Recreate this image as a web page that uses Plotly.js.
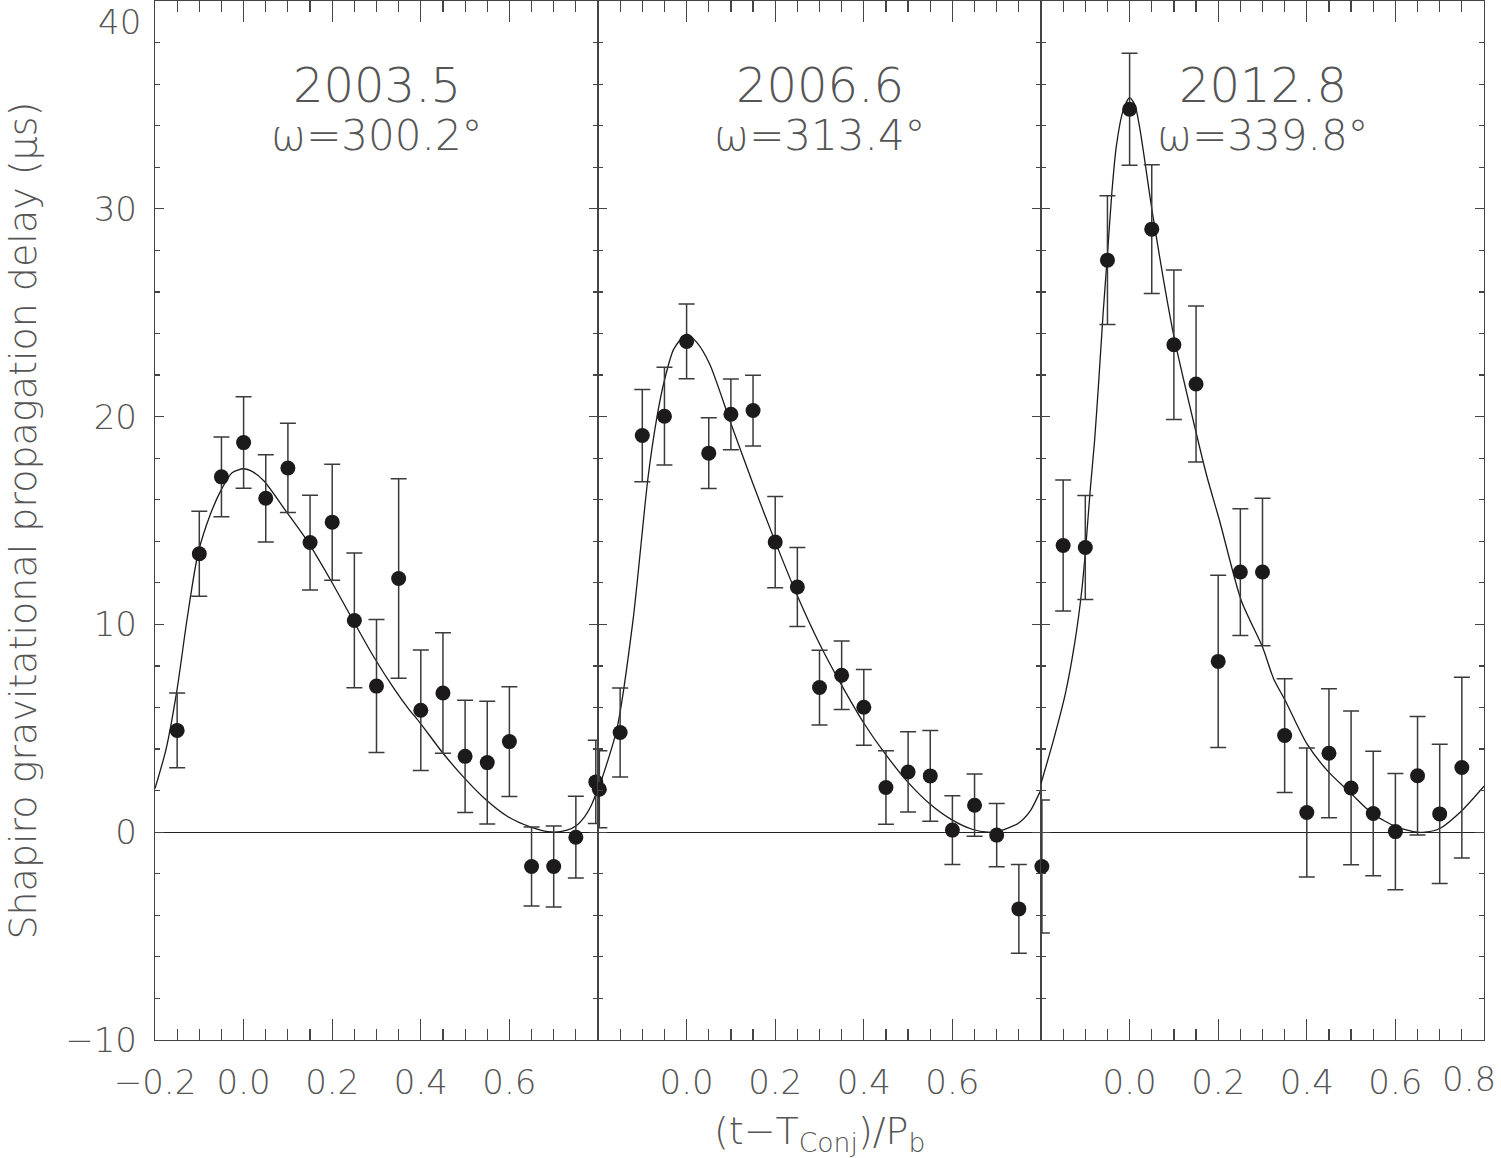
<!DOCTYPE html>
<html>
<head>
<meta charset="utf-8">
<script src="https://cdn.plot.ly/plotly-3.0.1.min.js"></script>
<style>html,body{margin:0;padding:0;background:#fff;}</style>
</head>
<body>
<div id="chart" style="width:1501px;height:1158px;"></div>
<script>
// ---- Data ----
const epochs = ['2003.5', '2006.6', '2012.8'];
const omegas = ['ω=300.2°', 'ω=313.4°', 'ω=339.8°'];

// Panel 1 (2003.5)
const phase1 = [-0.15,-0.10,-0.05,0.00,0.05,0.10,0.15,0.20,0.25,0.30,0.35,0.40,0.45,0.50,0.55,0.60,0.65,0.70,0.75,0.795];
const delay1 = [4.90,13.40,17.10,18.75,16.07,17.53,13.94,14.92,10.19,7.03,12.21,5.87,6.70,3.65,3.35,4.36,-1.65,-1.65,-0.24,2.42];
const err1   = [1.80,2.05,1.92,2.20,2.10,2.15,2.28,2.79,3.24,3.20,4.80,2.90,2.90,2.70,2.95,2.64,1.90,1.95,1.97,2.00];
const fitPhase1 = [-0.20,-0.175,-0.15,-0.128,-0.103,-0.075,-0.05,-0.026,0.00,0.02,0.046,0.094,0.143,0.196,0.243,0.294,0.34,0.372,0.397,0.448,0.496,0.544,0.595,0.647,0.695,0.73,0.75,0.77,0.785,0.80];
const fitDelay1 = [2.1,4.0,6.9,10.2,13.4,15.3,16.5,17.3,17.49,17.35,16.9,15.5,14.04,12.15,10.35,8.43,6.9,5.95,5.30,3.86,2.66,1.62,0.77,0.26,0.01,0.1,0.3,0.75,1.3,2.1];

// Panel 2 (2006.6)
const phase2 = [-0.197,-0.15,-0.10,-0.05,0.00,0.05,0.10,0.15,0.20,0.25,0.30,0.35,0.40,0.45,0.50,0.55,0.60,0.65,0.70,0.75];
const delay2 = [2.07,4.80,19.09,20.02,23.62,18.24,20.11,20.29,13.96,11.80,6.96,7.55,6.01,2.15,2.90,2.71,0.10,1.30,-0.14,-3.69];
const err2   = [1.85,2.14,2.22,2.35,1.80,1.70,1.70,1.70,2.20,1.90,1.80,1.65,1.82,1.77,1.93,2.18,1.65,1.50,1.52,2.14];
const fitPhase2 = [-0.20,-0.157,-0.121,-0.087,-0.067,-0.052,-0.029,0.00,0.023,0.052,0.099,0.15,0.196,0.248,0.30,0.348,0.401,0.448,0.499,0.548,0.60,0.646,0.68,0.70,0.748,0.775,0.80];
const fitDelay2 = [2.0,5.0,10.19,17.08,19.97,21.57,23.25,23.97,23.57,22.53,19.73,16.76,14.2,11.48,9.07,7.15,5.22,3.78,2.42,1.38,0.58,0.13,0.0,0.02,0.42,1.0,2.05];

// Panel 3 (2012.8)
const phase3 = [-0.198,-0.15,-0.10,-0.05,0.00,0.05,0.10,0.15,0.20,0.25,0.30,0.35,0.40,0.45,0.50,0.55,0.60,0.65,0.70,0.75];
const delay3 = [-1.65,13.80,13.70,27.53,34.79,29.02,23.46,21.57,8.22,12.52,12.52,4.65,0.95,3.80,2.13,0.90,0.03,2.72,0.88,3.11];
const err3   = [3.20,3.15,2.50,3.10,2.70,3.10,3.60,3.75,4.14,3.05,3.55,2.74,3.10,3.10,3.70,3.00,2.80,2.85,3.35,4.35];
const fitPhase3 = [-0.20,-0.172,-0.145,-0.123,-0.108,-0.099,-0.089,-0.079,-0.07,-0.06,-0.05,-0.04,-0.03,-0.015,0.00,0.012,0.024,0.052,0.099,0.149,0.175,0.203,0.252,0.30,0.325,0.351,0.40,0.449,0.50,0.548,0.602,0.649,0.667,0.70,0.751,0.80];
const fitDelay3 = [2.34,4.42,6.67,9.23,11.63,13.70,16.44,18.85,21.6,24.9,27.8,30.8,33.0,34.7,35.35,35.0,33.75,29.74,23.97,19.33,17.08,15.0,11.15,8.91,7.39,6.35,4.26,2.90,1.86,0.90,0.26,0.0,0.0,0.18,1.06,2.21];

// x-axis tick positions and labels per panel
const xTickVals1 = [-0.2, 0.0, 0.2, 0.4, 0.6];
const xTickText1 = ['−0.2', '0.0', '0.2', '0.4', '0.6'];
const xTickVals2 = [0.0, 0.2, 0.4, 0.6];
const xTickText2 = ['0.0', '0.2', '0.4', '0.6'];
const xTickVals3 = [0.0, 0.2, 0.4, 0.6];
const xTickText3 = ['0.0', '0.2', '0.4', '0.6'];
const xEdgeValue = 0.8;
const xEdgeLabel = '0.8';      // last label of panel 3, kept inside the picture
const yTickVals = [-10, 0, 10, 20, 30];
const yTickText = ['−10', '0', '10', '20', '30'];
const yTopLabel = '40';        // top label, kept inside the picture

// ---- Styling ----
const FONT = 'DejaVu Sans';
const TXT = '#555555';
const AX = '#444444';

const panels = [
  {x: phase1, y: delay1, e: err1, fx: fitPhase1, fy: fitDelay1},
  {x: phase2, y: delay2, e: err2, fx: fitPhase2, fy: fitDelay2},
  {x: phase3, y: delay3, e: err3, fx: fitPhase3, fy: fitDelay3}
];

const traces = [];
panels.forEach((p, i) => {
  const xa = i === 0 ? 'x' : 'x' + (i + 1);
  const ya = i === 0 ? 'y' : 'y' + (i + 1);
  traces.push({
    type: 'scatter', mode: 'lines', x: p.fx, y: p.fy, xaxis: xa, yaxis: ya,
    line: {color: '#1a1a1a', width: 1.3, shape: 'spline', smoothing: 0.7},
    hoverinfo: 'skip'
  });
  traces.push({
    type: 'scatter', mode: 'markers', x: p.x, y: p.y, xaxis: xa, yaxis: ya,
    cliponaxis: false,
    marker: {color: '#1c1a1b', size: 15},
    error_y: {type: 'data', array: p.e, visible: true, color: '#3a3a3a', thickness: 1.5, width: 8}
  });
});

function xAxis(domain, anchor, tickvals, ticktext) {
  return {
    domain: domain, anchor: anchor, range: [-0.2, 0.8],
    showgrid: false, zeroline: false,
    showline: true, linecolor: AX, linewidth: 1.2, mirror: 'ticks',
    ticks: 'inside', ticklen: 21, tickwidth: 1.3, tickcolor: AX,
    tickmode: 'array', tickvals: tickvals, ticktext: ticktext,
    tickfont: {family: FONT, size: 34, color: TXT, weight: 300},
    ticklabelstandoff: 12,
    minor: {tickmode: 'linear', tick0: 0, dtick: 0.05, ticks: 'inside', ticklen: 11, tickwidth: 1.2, tickcolor: AX, showgrid: false}
  };
}
function yAxis(anchor, showLabels) {
  return {
    anchor: anchor, range: [-10, 40], domain: [0, 1],
    showgrid: false,
    zeroline: true, zerolinecolor: '#222222', zerolinewidth: 1.2,
    showline: true, linecolor: AX, linewidth: 1.2, mirror: 'ticks',
    ticks: 'inside', ticklen: 9, tickwidth: 1.3, tickcolor: AX,
    tickmode: 'array', tickvals: yTickVals, ticktext: yTickText,
    showticklabels: showLabels,
    tickfont: {family: FONT, size: 34, color: TXT, weight: 300},
    ticklabelstandoff: 10,
    minor: {tickmode: 'linear', tick0: 0, dtick: 2, ticks: 'inside', ticklen: 5, tickwidth: 1.2, tickcolor: AX, showgrid: false}
  };
}

const annotations = [];
const centers = [1/6, 1/2, 5/6];
epochs.forEach((t, i) => {
  annotations.push({xref: 'paper', yref: 'paper', x: centers[i], y: 0.919, xanchor: 'center', yanchor: 'middle',
    text: t, showarrow: false, font: {family: FONT, size: 48, color: TXT, weight: 300}});
  annotations.push({xref: 'paper', yref: 'paper', x: centers[i], y: 0.871, xanchor: 'center', yanchor: 'middle',
    text: omegas[i], showarrow: false, font: {family: FONT, size: 42, color: TXT, weight: 300}});
});
annotations.push({xref: 'paper', yref: 'paper', x: 0, y: 1, xanchor: 'right', yanchor: 'top', xshift: -12, yshift: 1,
  text: yTopLabel, showarrow: false, font: {family: FONT, size: 34, color: TXT, weight: 300}});
annotations.push({xref: 'x3', yref: 'paper', x: xEdgeValue, y: 0, xanchor: 'right', yanchor: 'top', xshift: 14, yshift: -17,
  text: xEdgeLabel, showarrow: false, font: {family: FONT, size: 34, color: TXT, weight: 300}});
// axis titles
annotations.push({xref: 'paper', yref: 'paper', x: -0.1, y: 0.5, xanchor: 'center', yanchor: 'middle', textangle: -90,
  text: 'Shapiro gravitational propagation delay (μs)', showarrow: false,
  font: {family: FONT, size: 38, color: TXT, weight: 300}});
annotations.push({xref: 'paper', yref: 'paper', x: 0.5, y: -0.09, xanchor: 'center', yanchor: 'middle',
  text: '(t−T<sub>Conj</sub>)/P<sub>b</sub>', showarrow: false,
  font: {family: FONT, size: 38, color: TXT, weight: 300}});

const layout = {
  width: 1501, height: 1158,
  margin: {l: 155, r: 17, t: 1, b: 118, pad: 0},
  paper_bgcolor: '#ffffff', plot_bgcolor: '#ffffff',
  showlegend: false,
  xaxis: xAxis([0, 1/3], 'y', xTickVals1, xTickText1),
  xaxis2: xAxis([1/3, 2/3], 'y2', xTickVals2, xTickText2),
  xaxis3: xAxis([2/3, 1], 'y3', xTickVals3, xTickText3),
  yaxis: yAxis('x', true),
  yaxis2: Object.assign(yAxis('x2', false), {matches: 'y'}),
  yaxis3: Object.assign(yAxis('x3', false), {matches: 'y'}),
  annotations: annotations
};

Plotly.newPlot('chart', traces, layout, {staticPlot: true, displayModeBar: false});
</script>
</body>
</html>
